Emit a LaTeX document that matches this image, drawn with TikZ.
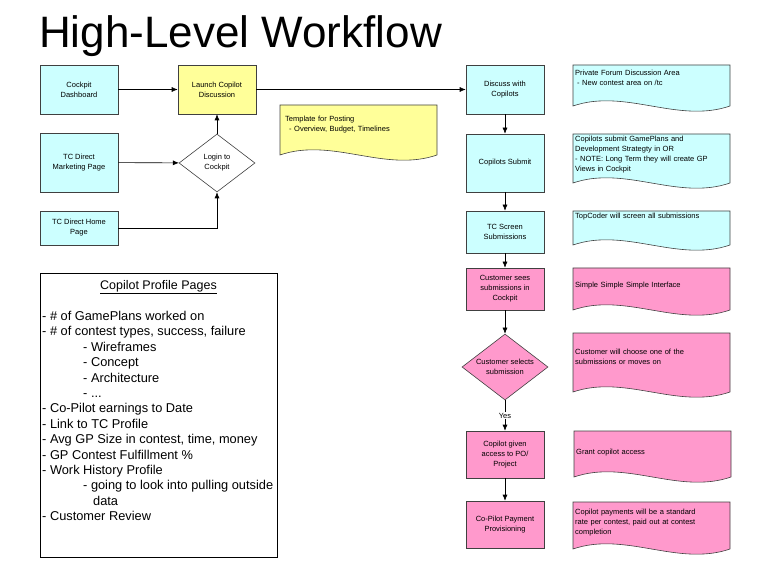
\documentclass[tikz,border=0pt]{standalone}
\usepackage{fontspec}
\setmainfont{Liberation Sans}
\usetikzlibrary{shapes.geometric,arrows.meta}
\definecolor{cy}{HTML}{CCFFFF}
\definecolor{ye}{HTML}{FFFF99}
\definecolor{pk}{HTML}{FF99CC}
\definecolor{ln}{HTML}{404040}
\newcommand\mydoc[5]{%
  \pgfmathsetmacro\dw{(#3-#1)/3}%
  \filldraw[draw=ln,line width=0.6pt,fill=#5] (#1,#2) -- (#3,#2) -- (#3,#4)
    .. controls ++(-\dw,18) and ++(\dw,-18) .. (#1,#4) -- cycle;}
\begin{document}
\begin{tikzpicture}[x=1pt,y=-1pt,
  box/.style={draw=ln,line width=0.6pt,minimum width=78pt,align=center,font=\fontsize{7.5}{10}\selectfont,inner sep=1pt},
  dia/.style={draw=ln,line width=0.6pt,diamond,align=center,font=\fontsize{7.5}{10}\selectfont,inner sep=0pt},
  dtext/.style={anchor=north west,align=left,text width=150pt,font=\fontsize{7.5}{10}\selectfont,inner sep=0pt},
  arr/.style={-{Latex[length=6pt,width=5pt]},line width=0.6pt}]
\useasboundingbox (0,0) rectangle (774,572);
\node[anchor=west,font=\fontsize{44}{46}\selectfont,inner sep=0pt] (title) at (39,36) {High-Level Workflow};
% left column
\node[box,fill=cy,minimum height=49pt] (cd) at (79,89.5) {Cockpit\\Dashboard};
\node[box,fill=ye,minimum height=49pt] (lc) at (217,89.5) {Launch Copilot\\Discussion};
\node[box,fill=cy,minimum height=59pt] (mk) at (79,162.5) {TC Direct\\Marketing Page};
\node[dia,fill=white,minimum width=76pt,minimum height=58pt,aspect=1.3] (lg) at (217,163) {Login to\\Cockpit};
\node[box,fill=cy,minimum height=34pt] (hp) at (79,228) {TC Direct Home\\Page};
\mydoc{280}{105}{437}{155}{ye}
\node[dtext] (tp) at (285,116) {Template for Posting\\\hspace*{4pt}- Overview, Budget, Timelines};
% right column
\node[box,fill=cy,minimum height=49pt] (dc) at (505,89.5) {Discuss with\\Copilots};
\node[box,fill=cy,minimum height=58pt] (cs) at (505,163) {Copilots Submit};
\node[box,fill=cy,minimum height=42pt] (ts) at (505,232) {TC Screen\\Submissions};
\node[box,fill=pk,minimum height=42pt] (se) at (505,289) {Customer sees\\submissions in\\Cockpit};
\node[dia,fill=pk,minimum width=86pt,minimum height=66pt,aspect=1.3] (sl) at (505,367) {Customer selects\\submission};
\node[box,fill=pk,minimum height=47pt] (cg) at (505,454.5) {Copilot given\\access to PO/\\Project};
\node[box,fill=pk,minimum height=47pt] (pp) at (505,524.5) {Co-Pilot Payment\\Provisioning};
% documents
\mydoc{573}{65}{730}{106}{cy}
\node[dtext] (d1) at (575,70) {Private Forum Discussion Area\\\hspace*{2pt}- New contest area on /tc};
\mydoc{573}{134}{730}{183}{cy}
\node[dtext] (d2) at (575,136) {Copilots submit GamePlans and\\Development Strategty in OR\\- NOTE: Long Term they will create GP\\Views in Cockpit};
\mydoc{573}{211}{730}{245}{cy}
\node[dtext] (d3) at (575,213) {TopCoder will screen all submissions};
\mydoc{573}{268}{730}{310}{pk}
\node[dtext] (d4) at (575,282) {Simple Simple Simple Interface};
\mydoc{573}{333}{730}{392}{pk}
\node[dtext] (d5) at (575,349) {Customer will choose one of the\\submissions or moves on};
\mydoc{574}{431}{731}{477}{pk}
\node[dtext] (d6) at (576,449) {Grant copilot access};
\mydoc{573}{502}{730}{549}{pk}
\node[dtext] (d7) at (575,509) {Copilot payments will be a standard\\rate per contest, paid out at contest\\completion};
% profile box
\draw[line width=0.7pt] (40,273) rectangle (277,557);
\node[font=\fontsize{12.5}{14}\selectfont,inner sep=0pt] (pt) at (158.5,287) {\underline{Copilot Profile Pages}};
\node[anchor=north west,align=left,inner sep=0pt,font=\fontsize{12.8}{15.4}\selectfont] (pl) at (42,311) {%
- \# of GamePlans worked on\\
- \# of contest types, success, failure\\
\hspace*{41pt}- Wireframes\\
\hspace*{41pt}- Concept\\
\hspace*{41pt}- Architecture\\
\hspace*{41pt}- ...\\
- Co-Pilot earnings to Date\\
- Link to TC Profile\\
- Avg GP Size in contest, time, money\\
- GP Contest Fulfillment \%\\
- Work History Profile\\
\hspace*{41pt}- going to look into pulling outside\\
\hspace*{51pt}data\\
- Customer Review};
% connectors
\draw[arr] (cd) -- (lc);
\draw[arr] (mk) -- (lg);
\draw[arr] (hp.east) -| (lg.south);
\draw[arr] (lg) -- (lc);
\draw[arr] (lc) -- (dc);
\draw[arr] (dc) -- (cs);
\draw[arr] (cs) -- (ts);
\draw[arr] (ts) -- (se);
\draw[arr] (se) -- (sl);
\draw[arr] (sl) -- node[fill=white,inner sep=1pt,font=\fontsize{7.5}{9}\selectfont] (yes) {Yes} (cg);
\draw[arr] (cg) -- (pp);
\end{tikzpicture}
\end{document}
